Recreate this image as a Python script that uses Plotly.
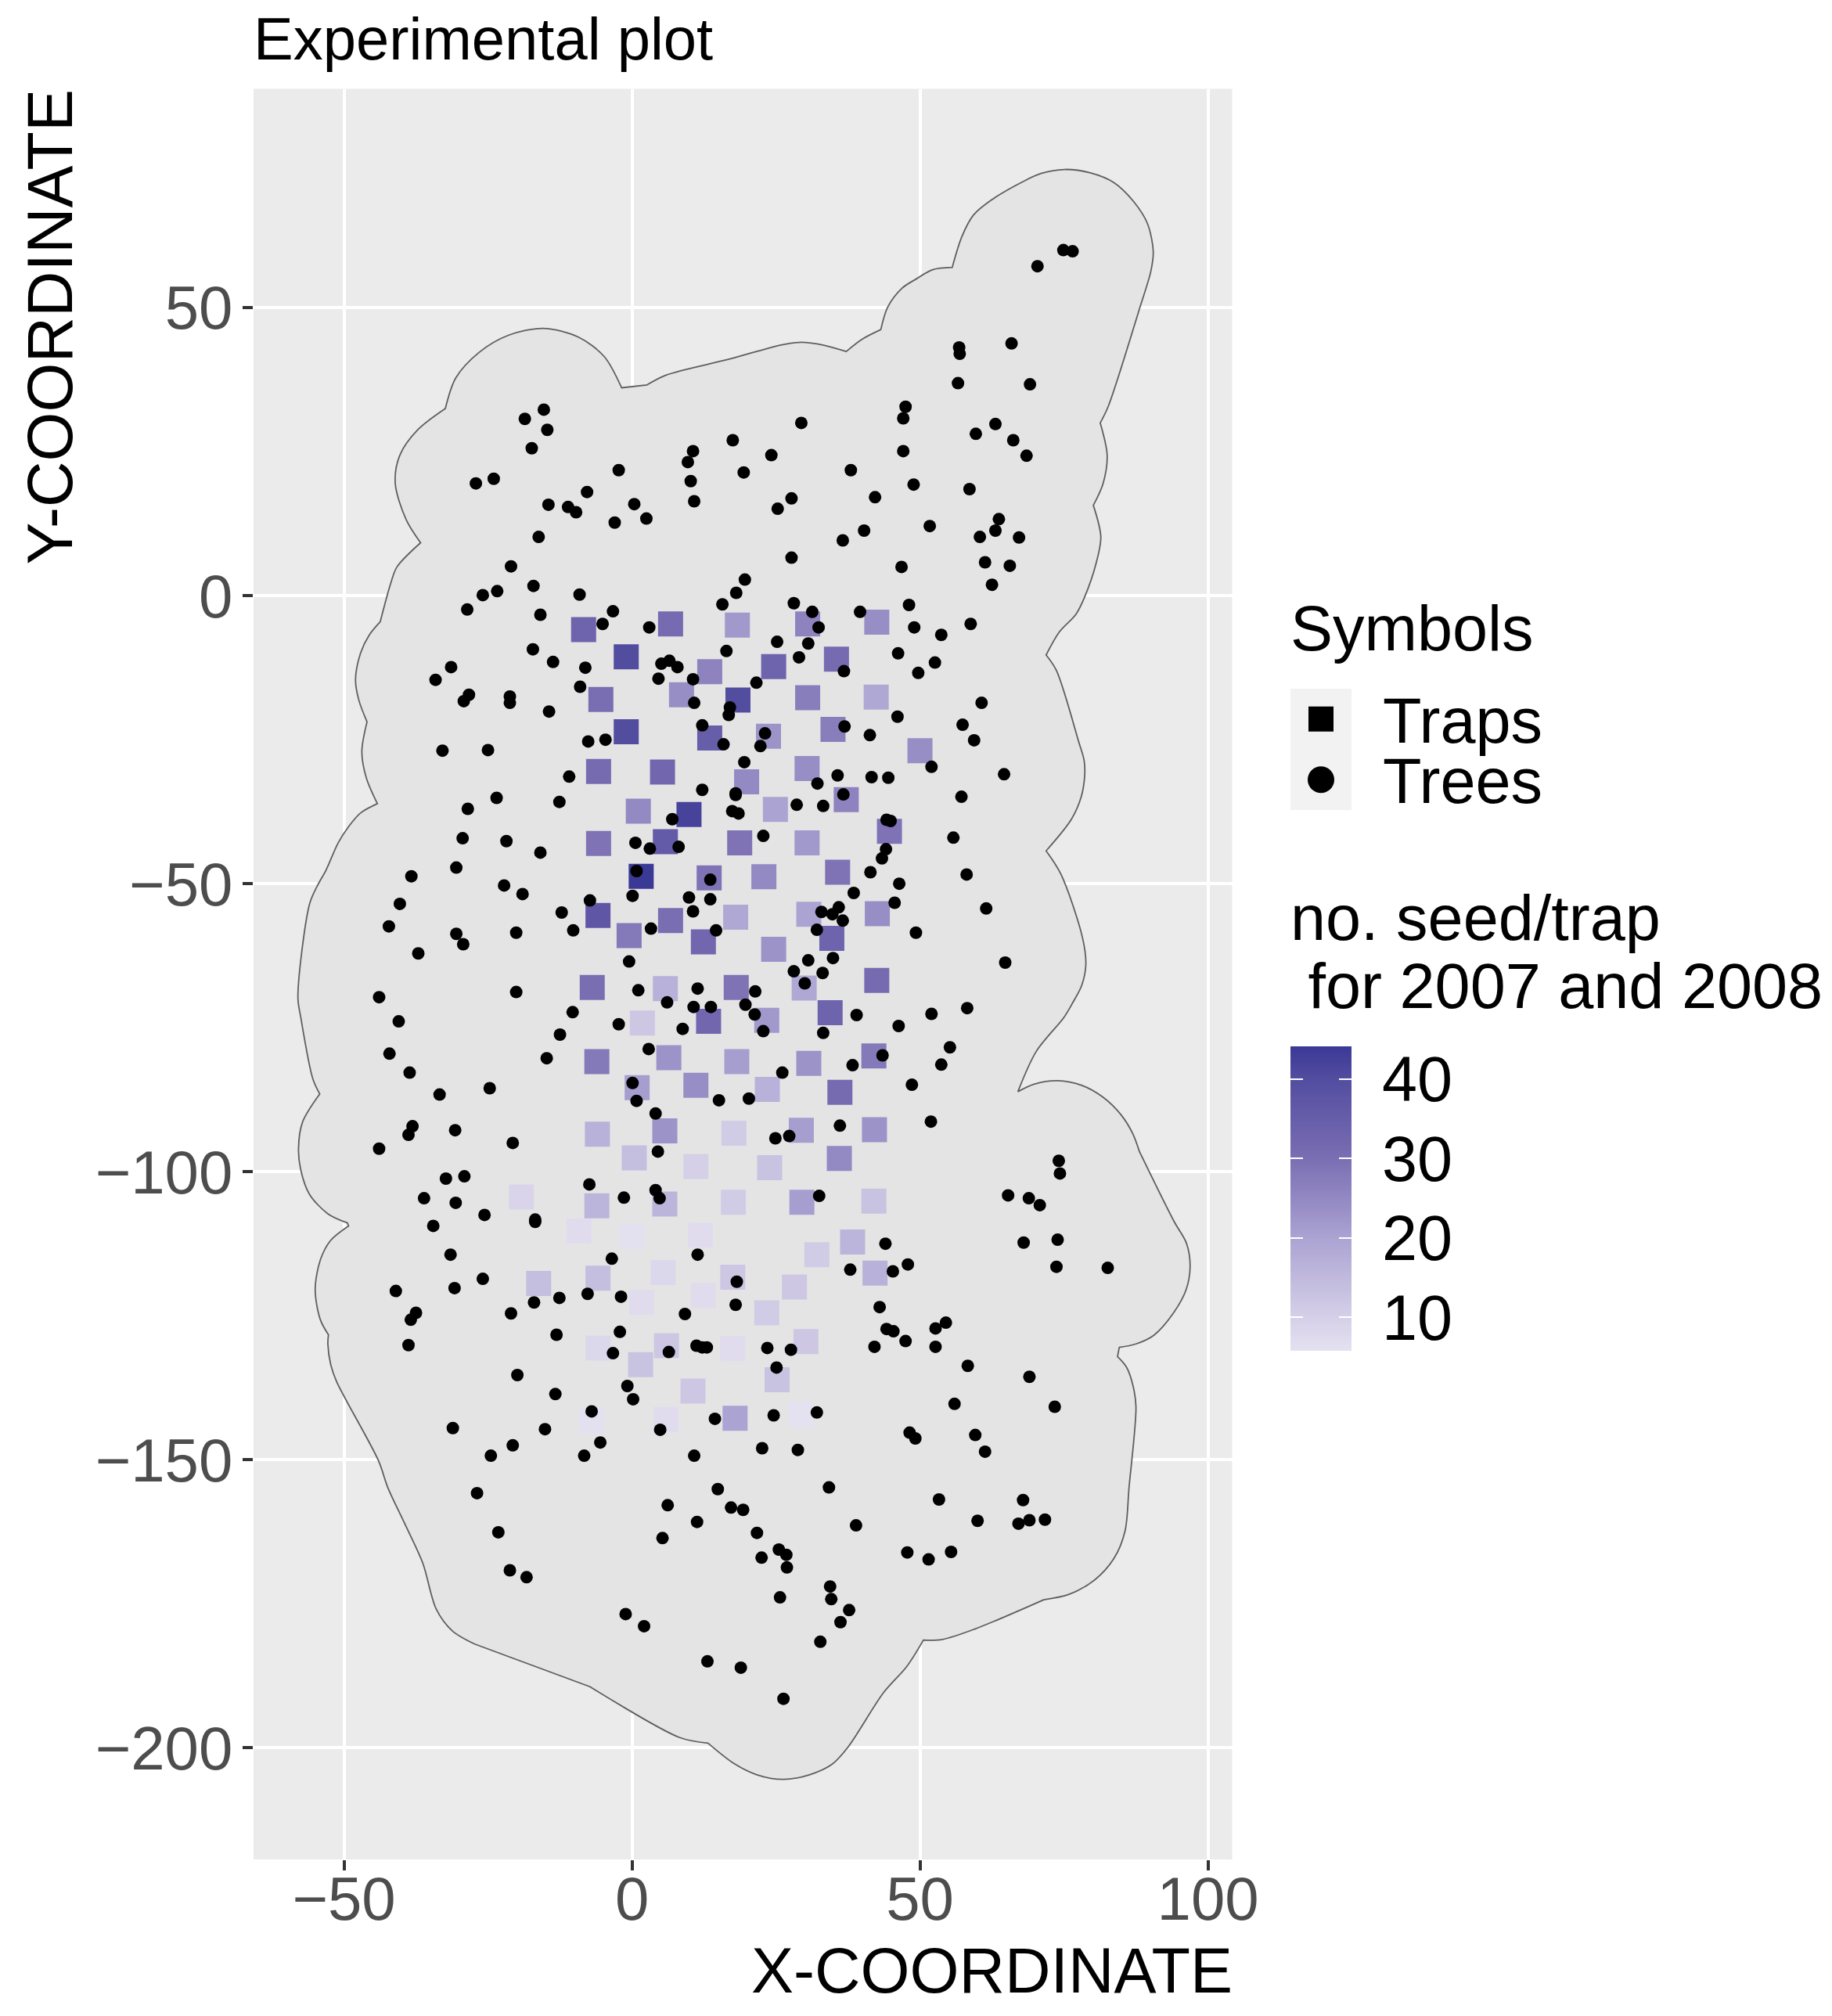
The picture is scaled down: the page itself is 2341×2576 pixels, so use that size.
import plotly.graph_objects as go

# Figure geometry, in pixels of the page
fig_w = 2341
fig_h = 2576
panel_left = 324
panel_right = 1574.5
panel_top = 113.5
panel_bottom = 2376

# Tree positions
tree_x = [
    -15.3, -18.6, -14.7, -17.4, -27.1, -24.0, -14.5, -11.1, -9.7, -7.8, -2.3, 0.4, 2.5, -3.0, -16.2, -21.0, -25.9, -23.4, -28.6, -17.1,
    -15.9, -9.1, -3.3, -5.1, 3.0, -17.2, -13.7, -8.1, -31.4, 9.7, 10.6, 10.2, 10.8, 17.5, 24.2, 19.4, 29.4, 38.0, 27.7, 25.3,
    42.2, 48.9, 40.3, 36.6, 27.7, 46.8, 19.6, 18.1, 15.7, 28.1, 31.3, 32.4, 39.6, 48.1, 49.0, 25.2, 30.6, 16.4, 29.0, 46.2,
    5.1, 6.5, 7.9, 36.8, 47.1, 47.5, 47.1,
    74.9, 76.5, 70.4, 65.9, 56.8, 56.9, 56.6, 69.1, 63.1, 59.7, 66.2, 68.5, 58.6, 63.7, 63.1, 51.7, 60.4, 67.2, 61.3, 65.6, 62.5, 58.8, 53.7, 52.6, 49.7,
    -34.1, -28.3, -29.2, -21.2, -21.2, -14.4, -9.0, 10.8, 4.6, 10.6, 12.2, -4.6, -7.6, -32.9, -25.0, -10.9, 12.2, -23.5, -12.6, -28.5,
    7.0, -29.4, -21.8, -15.9, 0.6, 3.1, 8.1, -30.5, -38.3, 0.8, -22.2, -19.0, -40.3, 0.1, 9.9, -7.3, -12.2, 10.6, -42.2, -10.2,
    3.3, -30.5, -29.3, -20.1, -37.1, -0.5, 1.1, 11.4, 6.1, 10.7, -43.9, -20.1, -10.3,
    -40.5, -2.3, 8.8, -12.5, -42.1, -14.8, 2.9, -38.6, 0.1, 0.8, -24.7, -33.4, 4.1, -38.1, -38.8, -30.7, -20.7, -43.9, 4.5, -7.4,
    -29.1, -32.3, -36.1, -30.6, -1.4, 4.1, 4.8, -25.6, -16.8, -16.8, -34.5, -31.5, -3.5, 11.4, -25.9, -41.0, -30.8, -7.7, -12.6, -1.9,
    -17.0, -21.0, 9.2, -37.5, -38.4, -2.1, -13.1, -38.8, 11.2, 12.2, -3.3, 6.4, -19.9, -0.8, -13.3, 0.2, -7.0, -31.1, -15.1, 4.9,
    -5.5, -20.7, -24.5, -8.3, 10.8,
    21.6, 60.7, 46.1, 57.4, 59.4, 17.0, 16.8, 36.9, 41.3, 23.1, 22.3, 15.9, 19.5, 52.0, 64.6, 35.7, 41.6, 44.5, 32.2, 18.0,
    18.0, 36.7, 57.2, 28.6, 33.2, 17.4, 18.5, 44.2, 44.9, 22.8, 55.8, 44.1, 43.4, 41.4, 46.4, 58.1, 13.6, 38.5, 13.6, 45.6,
    61.5, 35.9, 32.9, 34.8, 36.6, 14.6, 32.1, 49.3, 64.8, 34.9, 30.6, 28.1, 33.1, 30.0, 21.4, 19.7, 13.7, 21.3, 39.0, 52.0, 58.2,
    22.8, 33.2, 46.3, 55.2, 53.7, 43.5, 38.3, 26.1, 48.6, 15.1, 20.3, 51.9, 36.1, 24.9, 27.3, 74.1, 74.3, 65.3, 68.9, 70.8,
    32.5, 44.0, 68.0, 73.9, 47.9, 45.3, 37.9, 73.7, 82.6, 18.2, 18.0, 43.0, 54.5, 52.7, 44.2, 45.4, 47.5, 52.7, 42.1, 23.5,
    27.6, 13.0, 25.1, 58.3, 69.0, 56.0, 73.4, 32.1, 24.6, 14.4, 48.2, 49.2, 59.6, 61.3, 22.6, 28.8,
    -26.9, 14.9, 34.2, 6.2, 53.3, 67.9, 17.2, 19.3, 11.3, 38.9, 60.0, 67.1, 69.0, 71.7, -23.2, 21.7, 5.3, 25.5, 26.8, 22.5,
    47.8, 51.5, 55.4, 26.9, -21.2, -18.3, 34.4, 34.6, 25.7, 37.7, 36.2, -1.1, 2.1, 32.7, 13.1, 18.9, 26.3,
]
tree_y = [
    32.3, 30.7, 28.8, 25.6, 19.5, 20.3, 15.8, 15.4, 14.5, 18.0, 21.8, 15.9, 13.4, 12.7, 10.2, 5.1, 0.1, 0.8, -2.4, 1.7,
    -3.3, 0.2, -2.7, -4.9, -5.5, -9.3, -11.5, -12.5, -12.4, 23.2, 25.1, 19.9, 16.4, 27.0, 24.4, 21.4, 30.0, 21.8, 16.9, 15.1,
    17.1, 19.3, 11.3, 9.6, 6.6, 5.0, 2.8, 0.5, -1.5, -1.3, -2.8, -5.5, -2.8, -1.6, -5.5, -8.0, -8.3, -9.6, -10.7, -10.0,
    -11.8, -11.3, -12.4, -13.1, 30.8, 32.8, 25.1,
    60.0, 59.8, 57.2, 43.8, 43.1, 42.0, 36.9, 36.7, 29.8, 28.1, 27.0, 24.3, 18.5, 13.3, 11.3, 12.1, 10.2, 10.1, 5.8, 5.2, 1.9, -4.9, -6.8, -11.6, -13.4,
    -14.6, -17.2, -18.3, -17.5, -18.6, -20.1, -15.8, -18.6, -14.4, -14.5, -22.5, -25.0, -25.3, -26.9, -26.8, -31.4, -33.7, -35.1, -35.8, -37.0,
    -38.8, -42.1, -42.6, -44.6, -42.9, -43.9, -43.6, -47.2, -48.7, -47.8, -50.3, -51.8, -53.5, -52.1, -52.4, -52.9, -55.0, -54.8, -57.4, -58.1,
    -57.8, -58.7, -60.5, -58.5, -62.1, -63.5, -68.5, -68.2, -70.6, -71.4, -69.7, -68.8, -72.3,
    -73.9, -74.4, -75.2, -76.2, -79.5, -80.3, -78.7, -82.8, -84.6, -87.7, -85.5, -86.6, -89.9, -92.1, -93.6, -92.8, -95.0, -96.0, -96.5, -102.2,
    -100.8, -101.2, -104.6, -105.4, -104.5, -103.2, -104.6, -107.5, -108.3, -108.7, -109.4, -114.4, -115.1, -114.4, -118.6, -120.7, -120.2, -121.2, -121.9, -121.7,
    -122.7, -124.6, -124.7, -124.5, -125.7, -127.8, -128.3, -130.1, -130.2, -130.5, -131.5, -131.3, -135.3, -137.2, -138.6, -139.5, -141.6, -144.5, -144.7, -144.8,
    -147.0, -147.5, -149.3, -149.3, -149.3,
    -15.1, -18.6, -21.0, -22.4, -25.1, -19.4, -20.7, -22.7, -24.2, -23.9, -26.1, -25.8, -28.9, -29.7, -31.0, -31.2, -31.5, -31.6, -32.6, -34.3,
    -34.6, -34.5, -34.9, -36.3, -36.5, -37.4, -37.8, -38.9, -39.1, -41.7, -42.0, -44.0, -45.6, -48.0, -50.0, -48.4, -49.3, -51.6, -52.7, -53.3,
    -54.3, -54.1, -54.9, -55.3, -56.4, -58.1, -58.0, -58.5, -63.7, -62.9, -63.3, -65.2, -65.5, -67.3, -68.7, -71.0, -71.4, -72.7, -72.8, -72.6, -71.6,
    -75.6, -75.9, -74.7, -78.4, -81.4, -79.8, -81.5, -82.8, -84.9, -87.6, -87.3, -91.3, -92.0, -94.2, -93.8, -98.1, -100.3, -104.1, -104.6, -105.8,
    -104.2, -112.5, -112.3, -111.8, -116.1, -117.3, -117.0, -116.5, -116.7, -119.1, -123.1, -123.5, -126.2, -127.2, -127.3, -127.7, -129.4, -130.4, -130.4, -130.6,
    -130.9, -130.5, -134.0, -133.7, -135.6, -140.3, -140.8, -141.8, -142.3, -142.9, -145.3, -146.3, -145.7, -148.6, -148.0, -148.3,
    -155.8, -155.1, -154.8, -157.9, -156.9, -157.0, -158.3, -158.7, -160.8, -161.4, -160.6, -161.1, -160.5, -160.4, -162.6, -162.7, -163.6, -165.6, -166.5, -167.0,
    -166.1, -167.3, -166.0, -168.7, -169.2, -170.4, -172.0, -174.2, -173.9, -176.1, -178.2, -176.8, -178.9, -181.6, -185.0, -186.1, -191.5,
]

# Traps and their seed counts
trap_x = [
    -8.4, 6.7, -1.0, -5.4, 8.6, 13.5, -1.0, -5.8, 5.3, 1.1, 9.9, 1.6, -5.8, 5.8, -5.9, 6.7, -0.5, -6.9, 5.8, 1.8, 12.4, 13.5, 13.4,
    18.3, 30.5, 42.5, 24.6, 35.5, 18.4, 30.5, 42.4, 34.9, 23.7, 50.0, 30.4, 19.9, 37.2, 24.9, 44.7, 18.7, 30.4, 22.9, 35.7,
    18.0, 30.7, 42.6, 34.7, 24.6, 18.1, 29.9, 42.5, 34.4, 23.4, 13.3,
    -6.1, 6.4, 0.9, 11.1, 5.7, -6.0, 0.4, 11.1, -19.2, -6.1, 5.7, -9.2, 0.0, 11.9, 5.4, -5.9, -16.2, 1.7, 12.4, -5.9, 6.0, 1.5, 10.6, -7.0, 5.9,
    18.2, 30.7, 42.0, 23.5, 36.1, 17.7, 29.4, 42.1, 23.9, 36.0, 17.6, 29.5, 42.0, 38.3, 32.1, 42.2, 28.2, 17.5, 23.4, 30.2, 17.5, 25.2, 17.9, 29.3,
]
trap_y = [
    -5.9, -4.9, -10.6, -18.0, -17.2, -13.2, -23.6, -30.5, -30.6, -37.4, -38.0, -48.7, -43.0, -42.7, -55.5, -56.4, -59.0, -68.0, -68.2, -74.2, -60.1, -24.7, -49.0,
    -5.1, -4.9, -4.6, -12.3, -11.0, -18.1, -17.7, -17.6, -23.2, -24.4, -26.9, -30.0, -32.3, -35.4, -37.1, -40.9, -42.9, -42.9, -48.8, -48.0,
    -55.8, -55.3, -55.2, -59.5, -61.4, -68.0, -68.1, -66.8, -72.4, -73.7, -73.9,
    -80.9, -80.2, -85.4, -85.0, -92.9, -93.5, -97.6, -99.1, -104.4, -105.9, -105.6, -110.3, -111.2, -111.0, -117.5, -118.5, -119.4, -122.7, -121.5, -130.6, -130.2, -133.5, -138.1, -143.2, -143.0,
    -80.9, -81.2, -79.9, -85.7, -86.2, -93.3, -92.8, -92.7, -99.3, -97.7, -105.3, -105.3, -105.1, -112.2, -114.4, -117.6, -120.0, -118.3, -124.5, -129.5, -130.7, -136.1, -142.8, -142.1,
]
trap_seeds = [
    33, 31, 40, 30, 24, 26, 40, 31, 32, 25, 42, 44, 29, 36, 37, 30, 28, 30, 17, 12, 32, 35, 29,
    22, 26, 24, 33, 31, 40, 27, 19, 27, 23, 24, 24, 25, 26, 20, 29, 29, 22, 25, 29,
    19, 20, 24, 33, 23, 29, 19, 31, 33, 22, 32,
    28, 23, 21, 24, 23, 17, 14, 10, 9, 16, 16, 7, 6, 7, 8, 14, 14, 7, 7, 8, 12, 13, 12, 6, 7,
    21, 23, 28, 17, 31, 11, 21, 23, 13, 25, 11, 21, 13, 16, 11, 17, 12, 12, 11, 12, 7, 13, 20, 5.9,
]

# Outline of the experimental plot
boundary_x = [
    -1.8, 2.6, 5.9, 17.0, 26.2, 29.4, 33.3, 37.2, 39.9, 43.2, 44.4, 46.9, 49.2, 52.2, 55.6, 57.3, 59.3, 62.4, 67.9, 71.0,
    75.1, 79.6, 83.7, 87.2, 89.5, 90.5, 90.1, 88.2, 82.7, 81.3, 82.5, 81.8, 80.1, 81.4, 80.6, 78.6, 77.1, 74.2, 71.9, 73.7,
    77.6, 78.5, 78.6, 78.0, 76.3, 71.9, 74.5, 78.2, 78.8, 78.1, 76.5, 75.0, 70.2, 67.0, 69.8, 73.9, 78.1, 81.7, 84.9, 86.9,
    88.1, 94.1, 96.3, 96.9, 96.2, 94.1, 90.6, 87.5, 84.6, 84.3, 85.9, 87.0, 87.5, 86.3, 85.6, 83.7, 80.3, 75.8, 71.5, 59.5,
    53.9, 50.6, 47.7, 43.7, 37.5, 34.7, 30.8, 26.3, 21.7, 17.8, 13.2, 8.2, -7.3, -27.3, -31.2, -34.0, -36.3, -39.4, -42.4, -44.0,
    -51.3, -52.3, -52.8, -52.7, -54.1, -55.0, -54.1, -52.3, -49.2, -49.4, -52.8, -56.0, -57.5, -57.9, -57.2, -54.2, -55.4, -57.5, -58.0, -56.0,
    -54.7, -53.1, -51.0, -49.2, -47.1, -44.2, -46.1, -46.9, -46.0, -47.4, -48.0, -47.1, -45.6, -43.7, -41.9, -40.8, -36.7, -39.2, -41.1, -40.3,
    -37.2, -32.4, -30.6, -26.6, -21.5, -15.4, -9.3, -4.8, -1.8,
]
boundary_y = [
    36.1, 36.6, 38.3, 41.1, 43.6, 44.0, 43.5, 42.4, 44.5, 46.2, 50.1, 53.4, 54.9, 56.6, 57.0, 62.4, 66.1, 68.7, 71.9, 73.3,
    74.0, 73.4, 71.7, 68.3, 64.6, 59.8, 56.4, 50.1, 32.9, 30.0, 24.4, 19.5, 15.7, 10.2, 5.7, -0.2, -3.2, -6.3, -10.3, -13.0,
    -25.5, -28.6, -31.2, -34.9, -38.8, -44.3, -48.4, -59.3, -64.0, -67.6, -70.7, -73.2, -79.1, -86.1, -84.8, -84.2, -85.0, -87.0, -90.1, -93.3,
    -96.5, -108.6, -112.5, -116.5, -120.5, -124.4, -128.4, -129.9, -130.5, -132.1, -134.0, -137.2, -140.8, -154.8, -162.4, -167.1, -170.9, -173.4, -174.3, -179.4,
    -181.2, -181.3, -185.9, -190.4, -199.9, -202.9, -204.7, -205.5, -204.7, -202.8, -199.2, -198.2, -189.4, -182.0, -179.7, -175.9, -168.0, -161.2, -154.8, -150.2,
    -136.4, -133.5, -129.9, -128.3, -125.7, -120.5, -115.3, -111.9, -109.4, -108.9, -107.3, -103.9, -99.7, -96.1, -91.4, -86.5, -83.9, -73.2, -69.7, -53.6,
    -50.5, -47.6, -42.9, -40.1, -37.7, -36.1, -31.7, -27.1, -21.9, -18.2, -14.6, -9.9, -6.8, -4.5, 2.1, 5.0, 9.2, 13.2, 19.5, 24.4,
    28.8, 32.5, 37.8, 42.2, 45.2, 46.4, 44.9, 41.5, 36.1,
]
# Where the outline has a sharp corner between two arcs
boundary_corners = [
    (-1.8, 36.1), (2.6, 36.6), (37.2, 42.4), (43.2, 46.2), (55.6, 57.0), (81.3, 30.0), (80.1, 15.7), (71.9, -10.3),
    (71.9, -44.3), (67.0, -86.1), (88.1, -96.5), (84.6, -130.5), (84.3, -132.1), (71.5, -174.3), (50.6, -181.3),
    (13.2, -199.2), (-7.3, -189.4), (-27.3, -182.0), (-52.7, -128.3), (-49.2, -109.4), (-49.4, -108.9), (-54.2, -86.5),
    (-44.2, -36.1), (-46.0, -21.9), (-43.7, -4.5), (-36.7, 9.2), (-32.4, 32.5),
]

x_ticks = [-50, 0, 50, 100]
y_ticks = [50, 0, -50, -100, -150, -200]
x_range = [-65.7, 104.2]
y_range = [-219.4, 88.0]

# Colour scale
seed_min = 5.8
seed_max = 44.1
seed_ticks = [10, 20, 30, 40]
seed_values = [5.8, 10, 20, 30, 40, 44.1]
seed_colors = ['#E4E1F0', '#D5D0E8', '#ABA3D2', '#7A6EB3', '#534DA0', '#3A3996']
bar_left = 1649
bar_right = 1727
bar_top = 1337
bar_bottom = 1726

# Symbol key
key_names = ['Traps', 'Trees']
key_symbols = ['square', 'circle']
key_sizes = [32, 34]
key_rows = [1.5, 0.5]
key_top = 880
key_bottom = 1035


def px_x(value):
    return value / fig_w


def px_y(value):
    return 1 - value / fig_h


colorscale = [[(v - seed_min) / (seed_max - seed_min), c] for v, c in zip(seed_values, seed_colors)]

# Doubling a corner point keeps it sharp when the line is smoothed
outline_x = []
outline_y = []
for bx, by in zip(boundary_x, boundary_y):
    repeat = 2 if (bx, by) in boundary_corners else 1
    outline_x += [bx] * repeat
    outline_y += [by] * repeat

fig = go.Figure()

# Plot outline
fig.add_trace(go.Scatter(
    x = outline_x,
    y = outline_y,
    mode = 'lines',
    fill = 'toself',
    fillcolor = '#E4E4E4',
    line = dict(color = '#5E5E5E', width = 1.8, shape = 'spline', smoothing = 0.9, simplify = False),
    showlegend = False,
    hoverinfo = 'skip'
))

# Traps
fig.add_trace(go.Scatter(
    x = trap_x,
    y = trap_y,
    mode = 'markers',
    name = 'Traps',
    showlegend = False,
    marker = dict(
        symbol = 'square',
        size = 32,
        color = trap_seeds,
        cmin = seed_min,
        cmax = seed_max,
        colorscale = colorscale,
        line = dict(width = 0),
        showscale = False
    )
))

# Trees
fig.add_trace(go.Scatter(
    x = tree_x,
    y = tree_y,
    mode = 'markers',
    name = 'Trees',
    showlegend = False,
    marker = dict(symbol = 'circle', size = 16, color = 'black', line = dict(width = 0))
))

# Symbol key, on its own hidden axes
fig.add_trace(go.Scatter(
    x = [0.5, 0.5],
    y = key_rows,
    xaxis = 'x2',
    yaxis = 'y2',
    mode = 'markers',
    showlegend = False,
    hoverinfo = 'skip',
    marker = dict(symbol = key_symbols, size = key_sizes, color = 'black', opacity = 1, line = dict(width = 0))
))

# Colour bar, with white ticks on both of its sides
bar_levels = [seed_min + i * (seed_max - seed_min) / 199 for i in range(200)]
fig.add_trace(go.Heatmap(
    x = [0.5],
    y = bar_levels,
    z = [[level] for level in bar_levels],
    xaxis = 'x2',
    yaxis = 'y3',
    zmin = seed_min,
    zmax = seed_max,
    colorscale = colorscale,
    showscale = False,
    hoverinfo = 'skip'
))

axis_font = dict(family = 'Liberation Sans', size = 78, color = '#4D4D4D')
fig.update_layout(
    width = fig_w,
    height = fig_h,
    autosize = False,
    margin = dict(l = 0, r = 0, t = 0, b = 0, autoexpand = False),
    paper_bgcolor = 'white',
    plot_bgcolor = '#EBEBEB',
    font = dict(family = 'Liberation Sans', color = 'black'),
    title = dict(
        text = 'Experimental plot',
        font = dict(family = 'Liberation Sans', size = 76, color = 'black'),
        x = px_x(panel_left),
        xref = 'container',
        xanchor = 'left',
        y = px_y(76),
        yref = 'container',
        yanchor = 'bottom'
    ),
    xaxis = dict(
        domain = [px_x(panel_left), px_x(panel_right)],
        range = x_range,
        tickvals = x_ticks,
        ticks = 'outside',
        ticklen = 13,
        tickwidth = 4,
        tickcolor = '#333333',
        tickfont = axis_font,
        ticklabelstandoff = -31,
        showgrid = True,
        gridcolor = 'white',
        gridwidth = 4,
        zeroline = False,
        showline = False
    ),
    yaxis = dict(
        domain = [px_y(panel_bottom), px_y(panel_top)],
        range = y_range,
        tickvals = y_ticks,
        ticks = 'outside',
        ticklen = 13,
        tickwidth = 4,
        tickcolor = '#333333',
        tickfont = axis_font,
        ticklabelstandoff = -3,
        showgrid = True,
        gridcolor = 'white',
        gridwidth = 4,
        zeroline = False,
        showline = False
    ),
    xaxis2 = dict(
        domain = [px_x(bar_left), px_x(bar_right)],
        range = [0, 1],
        visible = False,
        anchor = 'y2'
    ),
    yaxis2 = dict(
        domain = [px_y(key_bottom), px_y(key_top)],
        range = [0, 2],
        visible = False,
        anchor = 'x2'
    ),
    yaxis3 = dict(
        domain = [px_y(bar_bottom), px_y(bar_top)],
        range = [seed_min, seed_max],
        tickvals = seed_ticks,
        side = 'right',
        anchor = 'x2',
        ticks = 'inside',
        ticklen = 16,
        tickwidth = 1.5,
        tickcolor = 'white',
        mirror = 'ticks',
        showline = False,
        showgrid = False,
        zeroline = False,
        ticklabelstandoff = 38,
        tickfont = dict(family = 'Liberation Sans', size = 81, color = 'black')
    )
)

# Grey background of the symbol key
fig.add_shape(
    type = 'rect',
    xref = 'paper',
    yref = 'paper',
    x0 = px_x(bar_left),
    x1 = px_x(bar_right),
    y0 = px_y(key_bottom),
    y1 = px_y(key_top),
    fillcolor = '#F2F2F2',
    line = dict(width = 0),
    layer = 'below'
)


def add_text(text, x, y, size, xanchor = 'left', yanchor = 'bottom', angle = 0):
    fig.add_annotation(
        text = text,
        x = x,
        y = y,
        xref = 'paper',
        yref = 'paper',
        xanchor = xanchor,
        yanchor = yanchor,
        textangle = angle,
        showarrow = False,
        borderpad = 0,
        borderwidth = 0,
        font = dict(family = 'Liberation Sans', size = size, color = 'black')
    )


# Axis titles
add_text('X-COORDINATE', px_x(panel_right), px_y(2563), 81, xanchor = 'right')
add_text('Y-COORDINATE', px_x(63), px_y(panel_top), 81, xanchor = 'center', yanchor = 'top', angle = -90)

# Legend texts
add_text('Symbols', px_x(bar_left), px_y(848), 81)
add_text(key_names[0], px_x(1767), px_y(966), 81)
add_text(key_names[1], px_x(1767), px_y(1043), 81)
add_text('no. seed/trap', px_x(bar_left), px_y(1218), 81)
add_text('\u00a0for 2007 and 2008', px_x(bar_left), px_y(1305), 81)

# Page margin off, so that the figure fills the window exactly
fig.write_html("out.html", config = dict(displayModeBar = False), post_script = "document.body.style.margin = '0';")
